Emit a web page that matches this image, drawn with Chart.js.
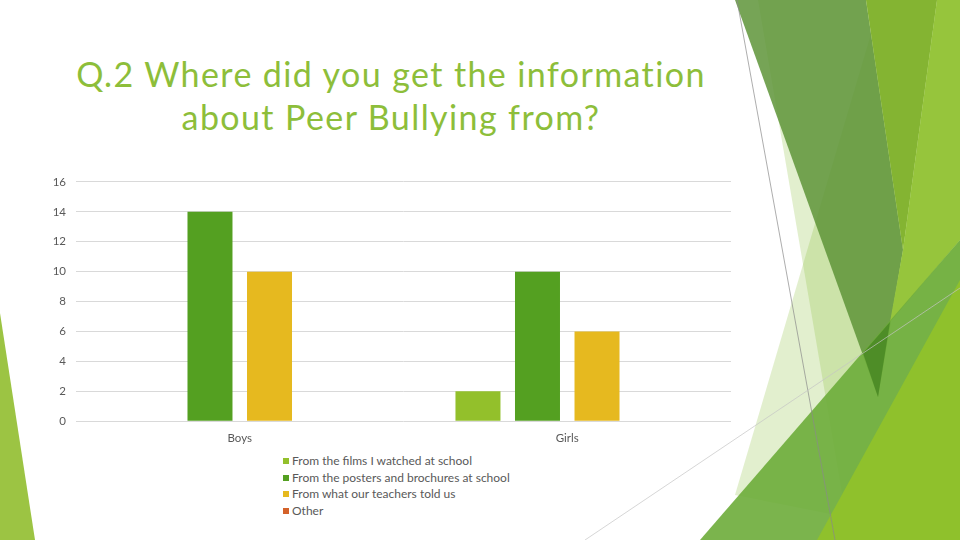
<!DOCTYPE html>
<html>
<head>
<meta charset="utf-8">
<script src="https://cdn.jsdelivr.net/npm/chart.js@4/dist/chart.umd.min.js"></script>
<style>
  html, body { margin: 0; padding: 0; background: #fff; }
  #slide { position: relative; width: 960px; height: 540px; overflow: hidden; background: #fff; }
  #deco { position: absolute; left: 0; top: 0; }
  #title { position: absolute; left: 40px; top: 52px; width: 702px; text-align: center;
           font-family: Lato, sans-serif; font-size: 34px; line-height: 43px; color: #8DBE3A; letter-spacing: 1.4px; }
  #chartBox { position: absolute; left: 30px; top: 165px; }
  #legend { position: absolute; left: 283px; top: 453px; font-family: Lato, sans-serif; font-size: 12px; color: #595959; }
  #legend div { height: 16.7px; line-height: 16.7px; white-space: nowrap; }
  #legend span { display: inline-block; width: 6px; height: 6px; margin-right: 3px; vertical-align: 1px; }
</style>
</head>
<body>
<div id="slide">
  <svg id="deco" width="960" height="540">
    <!-- decoracao do slide -->
    <polygon points="0,313 0,540 35,540" fill="#9CC443"/>
    <polygon points="758,0 960,0 960,540 850,540" fill="#8DBF3A" opacity="0.25"/>
    <polygon points="881,0 960,0 960,540 735,495" fill="#8DBF3A" opacity="0.25"/>
    <polygon points="735,0 866,0 903,250 878,397" fill="#5E9438" opacity="0.85"/>
    <polygon points="866,0 937,0 903,250" fill="#84B432"/>
    <polygon points="937,0 960,0 960,240 890,322 903,250" fill="#96C53C"/>
    <polygon points="700,540 960,240 960,540" fill="#6DAC3A" opacity="0.9"/>
    <polygon points="817,540 960,280 960,540" fill="#8FC12C"/>
    <polygon points="863,353 890,322 878,397" fill="#4E8D27"/>
    <line x1="737" y1="0" x2="835" y2="540" stroke="#8a8a8a" stroke-width="0.7"/>
    <line x1="585" y1="540" x2="960" y2="288" stroke="#c4c4c4" stroke-width="0.7"/>
  </svg>
  <div id="title">Q.2 Where did you get the information<br>about Peer Bullying from?</div>
  <div id="chartBox"><canvas id="grafico" width="710" height="282"></canvas></div>
  <div id="legend"></div>
</div>
<script>
// ----------------------- dados --------------------------------------------//
var categories = ['Boys', 'Girls'];
var seriesNames = ['From the films I watched at school', 'From the posters and brochures at school', 'From what our teachers told us', 'Other'];
var films = [0, 2];
var posters = [14, 10];
var teachers = [10, 6];
var other = [0, 0];
var seriesColors = ['#93C02B', '#54A021', '#E6B91F', '#D4622A'];
var yMax = 16;
var yStep = 2;

var data = {
  labels: categories,
  datasets: [films, posters, teachers, other].map(function (vals, i) {
    return {
      label: seriesNames[i],
      data: vals,
      backgroundColor: seriesColors[i],
      categoryPercentage: 0.727,
      barPercentage: 0.756
    };
  })
};

var options = {
  responsive: false,
  animation: false,
  layout: { padding: { top: 16, right: 9, left: 0, bottom: 0 } },
  plugins: { legend: { display: false }, tooltip: { enabled: false } },
  scales: {
    x: {
      grid: { display: false },
      border: { display: false },
      ticks: { color: '#595959', font: { family: 'Lato', size: 11.5 }, padding: 2 }
    },
    y: {
      min: 0, max: yMax,
      border: { display: false },
      grid: { color: '#D9D9D9', drawTicks: false },
      ticks: { stepSize: yStep, color: '#595959', font: { family: 'Lato', size: 11.5 }, padding: 10 },
      afterFit: function (s) { s.width = 46; }
    }
  }
};

var ctx = document.getElementById('grafico').getContext('2d');
var grafico = new Chart(ctx, { type: 'bar', data: data, options: options });

// legenda vertical
var leg = document.getElementById('legend');
data.datasets.forEach(function (d) {
  var row = document.createElement('div');
  var sw = document.createElement('span');
  sw.style.background = d.backgroundColor;
  row.appendChild(sw);
  row.appendChild(document.createTextNode(d.label));
  leg.appendChild(row);
});
</script>
</body>
</html>
